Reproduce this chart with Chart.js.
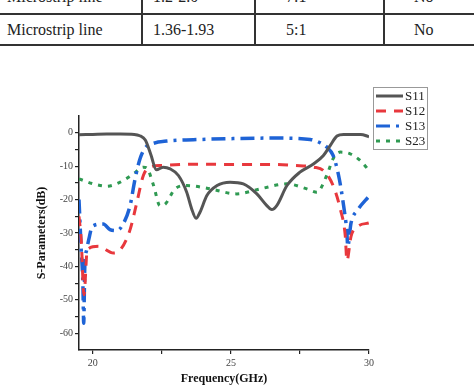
<!DOCTYPE html>
<html>
<head>
<meta charset="utf-8">
<script src="https://cdn.jsdelivr.net/npm/chart.js@4/dist/chart.umd.min.js"></script>
<style>
  html, body { margin: 0; padding: 0; background: #fff; }
  body { width: 474px; height: 387px; position: relative; overflow: hidden; }
  #chart { position: absolute; left: 0; top: 0; }
  .hline { position: absolute; left: 0; width: 474px; height: 2px; background: #333; }
  .vline { position: absolute; top: 0; width: 2px; height: 46px; background: #333; }
  .cell { position: absolute; font-family: "Liberation Serif", "Times New Roman", Times, serif; font-size: 16px; line-height: 16px; color: #222; white-space: nowrap; }
</style>
</head>
<body>
<!-- table fragment above the chart -->
<div class="cell" style="left:7px;top:-11px">Microstrip line</div>
<div class="cell" style="left:153px;top:-11px">1.2-2.0</div>
<div class="cell" style="left:286px;top:-11px">7:1</div>
<div class="cell" style="left:414px;top:-11px">No</div>
<div class="hline" style="top:13px"></div>
<div class="cell" style="left:7px;top:22px">Microstrip line</div>
<div class="cell" style="left:153px;top:22px">1.36-1.93</div>
<div class="cell" style="left:286px;top:22px">5:1</div>
<div class="cell" style="left:414px;top:22px">No</div>
<div class="hline" style="top:44px"></div>
<div class="vline" style="left:141px"></div>
<div class="vline" style="left:254px"></div>
<div class="vline" style="left:383px"></div>

<canvas id="chart" width="474" height="387"></canvas>
<script>
// S-parameter curves (GHz, dB)
const s11Freq = [19.5, 20, 20.5, 21, 21.5, 21.7, 21.9, 22.1, 22.3, 22.55, 22.8, 23.1, 23.4, 23.58, 23.74, 23.88, 24.13, 24.5, 24.97, 25.45, 25.94, 26.3, 26.48, 26.66, 27.03, 27.5, 28, 28.35, 28.6, 28.84, 29.08, 29.7, 30];
const s11Vals = [-0.6, -0.5, -0.4, -0.4, -0.5, -0.9, -2.2, -6.5, -11.1, -10.3, -10.8, -12.8, -17.8, -22.8, -25.6, -23.8, -18.8, -15.8, -14.8, -15.3, -18.3, -21.8, -23, -21.8, -15.8, -11.8, -9.3, -6.8, -3.8, -1, -0.5, -0.5, -1.2];

const s12Freq = [19.5, 19.58, 19.68, 19.8, 20.2, 20.75, 21.0, 21.35, 21.59, 21.83, 22.07, 22.5, 23.6, 25, 26.5, 27.3, 28, 28.35, 28.7, 28.96, 29.14, 29.2, 29.35, 29.6, 30];
const s12Vals = [-25, -32, -48.5, -35, -34, -36, -35, -29, -21, -12.8, -10.3, -9.8, -9.4, -9.5, -9.5, -9.8, -10.3, -11.3, -15.8, -22.8, -30.8, -38.3, -31, -28, -27];

const s13Freq = [19.5, 19.58, 19.64, 19.67, 19.71, 19.78, 19.88, 19.98, 20.38, 20.62, 20.87, 21.1, 21.35, 21.53, 21.71, 21.9, 22.15, 22.68, 23.64, 24.85, 26.66, 27.87, 28.23, 28.47, 28.7, 28.9, 29.08, 29.2, 29.23, 29.35, 29.6, 30];
const s13Vals = [-20, -35, -45, -57, -40, -35, -31, -28, -27.3, -29, -29.3, -27.3, -21.8, -13.8, -7.8, -4.5, -3.3, -2.5, -2.1, -1.8, -1.6, -2, -3, -4.3, -6.8, -12.8, -21.8, -30, -34, -27, -23, -19];

const s23Freq = [19.5, 20.02, 20.5, 20.99, 21.47, 21.83, 21.95, 22.2, 22.43, 22.6, 22.98, 23.4, 24.25, 25.21, 26.06, 27.03, 27.75, 28.11, 28.47, 28.7, 28.96, 29.32, 29.68, 30];
const s23Vals = [-13.8, -15.3, -16, -14.8, -12.3, -10.3, -10.5, -15.8, -21.8, -21.5, -16.8, -15.8, -16.8, -18.3, -16.8, -15.3, -16.8, -17.8, -12.8, -7.8, -5.8, -6.3, -8.3, -11.3];

const seriesNames = ['S11', 'S12', 'S13', 'S23'];
const xTicks = [20, 22.5, 25, 27.5, 30];
const yTicks = [-60, -55, -50, -45, -40, -35, -30, -25, -20, -15, -10, -5, 0];

function zip(xs, ys) {
    return xs.map((x, i) => ({ x: x, y: ys[i] }));
}

const serif = '"Liberation Serif", "Times New Roman", Times, serif';

// legend drawn inside the canvas so it keeps the dash styles
const boxLegend = {
    id: 'boxLegend',
    afterDraw(chart) {
        const ctx = chart.ctx;
        ctx.save();
        ctx.strokeStyle = '#999';
        ctx.lineWidth = 1;
        ctx.strokeRect(373.5, 87.5, 54, 62);
        chart.data.datasets.forEach((ds, i) => {
            const y = 96 + i * 15;
            ctx.beginPath();
            ctx.setLineDash(ds.borderDash || []);
            ctx.strokeStyle = ds.borderColor;
            ctx.lineWidth = 3;
            ctx.moveTo(376, y);
            ctx.lineTo(403, y);
            ctx.stroke();
            ctx.setLineDash([]);
            ctx.fillStyle = '#222';
            ctx.font = '13px ' + serif;
            ctx.textBaseline = 'middle';
            ctx.fillText(ds.label, 405, y + 1);
        });
        ctx.restore();
    }
};

new Chart(document.getElementById('chart'), {
    type: 'line',
    data: {
        datasets: [
            { label: seriesNames[0], data: zip(s11Freq, s11Vals), borderColor: '#555555', borderWidth: 3 },
            { label: seriesNames[1], data: zip(s12Freq, s12Vals), borderColor: '#e8383d', borderWidth: 3, borderDash: [10, 8] },
            { label: seriesNames[2], data: zip(s13Freq, s13Vals), borderColor: '#1e63d6', borderWidth: 3.5, borderDash: [14, 6, 3, 6] },
            { label: seriesNames[3], data: zip(s23Freq, s23Vals), borderColor: '#2f9a52', borderWidth: 3, borderDash: [4, 6] }
        ]
    },
    options: {
        responsive: false,
        animation: false,
        layout: { padding: { top: 116, right: 105, left: 0, bottom: 0 } },
        elements: {
            point: { radius: 0 },
            line: { cubicInterpolationMode: 'monotone', fill: false }
        },
        plugins: {
            legend: { display: false },
            tooltip: { enabled: false }
        },
        scales: {
            x: {
                type: 'linear',
                min: 19.5,
                max: 30,
                afterFit: (s) => { s.height = 37; },
                afterBuildTicks: (s) => { s.ticks = xTicks.map(v => ({ value: v })); },
                grid: { drawOnChartArea: false, drawTicks: true, tickLength: 4, color: '#222', lineWidth: 1.2 },
                border: { display: true, color: '#222', width: 1.5 },
                ticks: {
                    padding: 3,
                    color: '#444',
                    font: { family: serif, size: 10 },
                    maxRotation: 0,
                    callback: (v) => (v % 5 === 0 ? String(v) : '')
                },
                title: {
                    display: true,
                    text: 'Frequency(GHz)',
                    color: '#111',
                    font: { family: serif, size: 12, weight: 'bold' },
                    padding: { top: 0, bottom: 1 }
                }
            },
            y: {
                min: -65,
                max: 5,
                afterFit: (s) => { s.width = 79; },
                afterBuildTicks: (s) => { s.ticks = yTicks.map(v => ({ value: v })); },
                grid: { drawOnChartArea: false, drawTicks: true, tickLength: 4, color: '#222', lineWidth: 1.2 },
                border: { display: true, color: '#222', width: 1.5 },
                ticks: {
                    padding: 2,
                    color: '#444',
                    font: { family: serif, size: 10 },
                    callback: (v) => (v % 10 === 0 ? String(v) : '')
                },
                title: {
                    display: true,
                    text: 'S-Parameters(dB)',
                    color: '#111',
                    font: { family: serif, size: 12, weight: 'bold' },
                    padding: { top: 35, bottom: 0 }
                }
            }
        }
    },
    plugins: [boxLegend]
});
</script>
</body>
</html>
